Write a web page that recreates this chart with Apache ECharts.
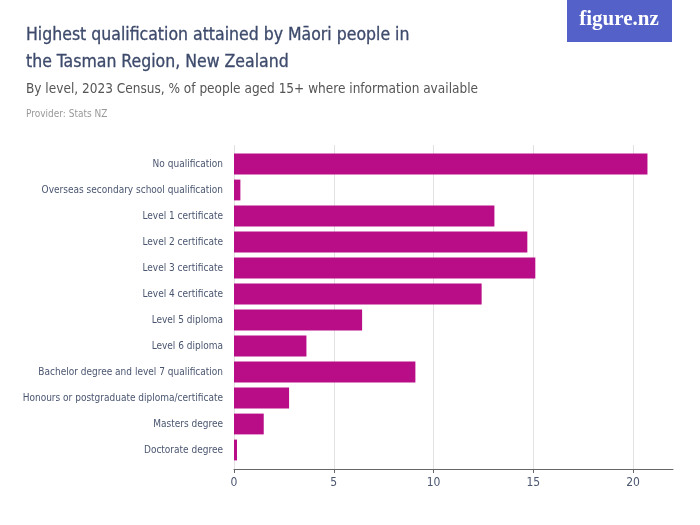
<!doctype html>
<html>
<head>
<meta charset="UTF-8">
<title>Highest qualification attained by Māori people in the Tasman Region</title>
<script src="https://cdn.jsdelivr.net/npm/echarts@6/dist/echarts.min.js"></script>
<style>
  html, body { margin: 0; padding: 0; background: #fff; }
  #main { width: 700px; height: 525px; }
</style>
</head>
<body>
<div id="main"></div>
<script>
var categories = [
  'No qualification',
  'Overseas secondary school qualification',
  'Level 1 certificate',
  'Level 2 certificate',
  'Level 3 certificate',
  'Level 4 certificate',
  'Level 5 diploma',
  'Level 6 diploma',
  'Bachelor degree and level 7 qualification',
  'Honours or postgraduate diploma/certificate',
  'Masters degree',
  'Doctorate degree'
];
var values = [20.72, 0.32, 13.05, 14.7, 15.1, 12.41, 6.42, 3.63, 9.09, 2.76, 1.49, 0.15];
var xTicks = [0, 5, 10, 15, 20];

var font = '"Liberation Sans Narrow", "DejaVu Sans Condensed", "Roboto", sans-serif';
var slate = '#3d4a6b';

var chart = echarts.init(document.getElementById('main'));
chart.setOption({
  animation: false,
  textStyle: { fontFamily: font },
  title: [
    {
      text: 'Highest qualification attained by Māori people in\nthe Tasman Region, New Zealand',
      left: 26, top: 22, padding: 0,
      textStyle: { fontFamily: font, fontSize: 17.5, fontWeight: 'normal', color: slate, lineHeight: 27,
        textBorderColor: slate, textBorderWidth: 0.3 }
    },
    {
      text: 'By level, 2023 Census, % of people aged 15+ where information available',
      left: 26, top: 82, padding: 0,
      textStyle: { fontFamily: font, fontSize: 13.5, fontWeight: 'normal', color: '#555' }
    },
    {
      text: 'Provider: Stats NZ',
      left: 26, top: 109, padding: 0,
      textStyle: { fontFamily: font, fontSize: 10, fontWeight: 'normal', color: '#999' }
    }
  ],
  graphic: [
    {
      type: 'rect', left: 567, top: 0,
      shape: { width: 105, height: 42 },
      style: { fill: '#5461c8' }
    },
    {
      type: 'text',
      style: {
        x: 619, y: 20, text: 'figure.nz', fill: '#fff',
        textAlign: 'center', textVerticalAlign: 'middle',
        font: 'bold 21px "Liberation Serif", serif'
      }
    }
  ],
  grid: [
    { left: 234, right: 27, top: 151, bottom: 62, outerBoundsMode: 'none', containLabel: false },
    { left: 234, right: 27, top: 145, bottom: 56, outerBoundsMode: 'none', containLabel: false }
  ],
  xAxis: [
    {
      type: 'value', gridIndex: 0, min: 0, max: 22, interval: 5, offset: 6,
      axisLine: { show: true, lineStyle: { color: '#666', width: 1 } },
      axisTick: { show: true, length: 4, lineStyle: { color: '#666' }, customValues: xTicks },
      axisLabel: { color: '#4a5670', fontSize: 12, margin: 8, customValues: xTicks },
      splitLine: { show: false }
    },
    {
      type: 'value', gridIndex: 1, min: 0, max: 22, interval: 5,
      axisLine: { show: false }, axisTick: { show: false }, axisLabel: { show: false },
      splitLine: { show: true, showMaxLine: false, lineStyle: { color: '#e2e2e2', width: 1 } }
    }
  ],
  yAxis: [
    {
      type: 'category', gridIndex: 0, data: categories, inverse: true,
      axisLine: { show: false }, axisTick: { show: false },
      axisLabel: { color: '#4a5670', fontSize: 10, margin: 11 }
    },
    {
      type: 'value', gridIndex: 1, show: false, min: 0, max: 1
    }
  ],
  series: [
    {
      type: 'bar', xAxisIndex: 0, yAxisIndex: 0,
      data: values, barCategoryGap: '20%',
      itemStyle: { color: '#b90c87' }
    }
  ]
});
</script>
</body>
</html>
